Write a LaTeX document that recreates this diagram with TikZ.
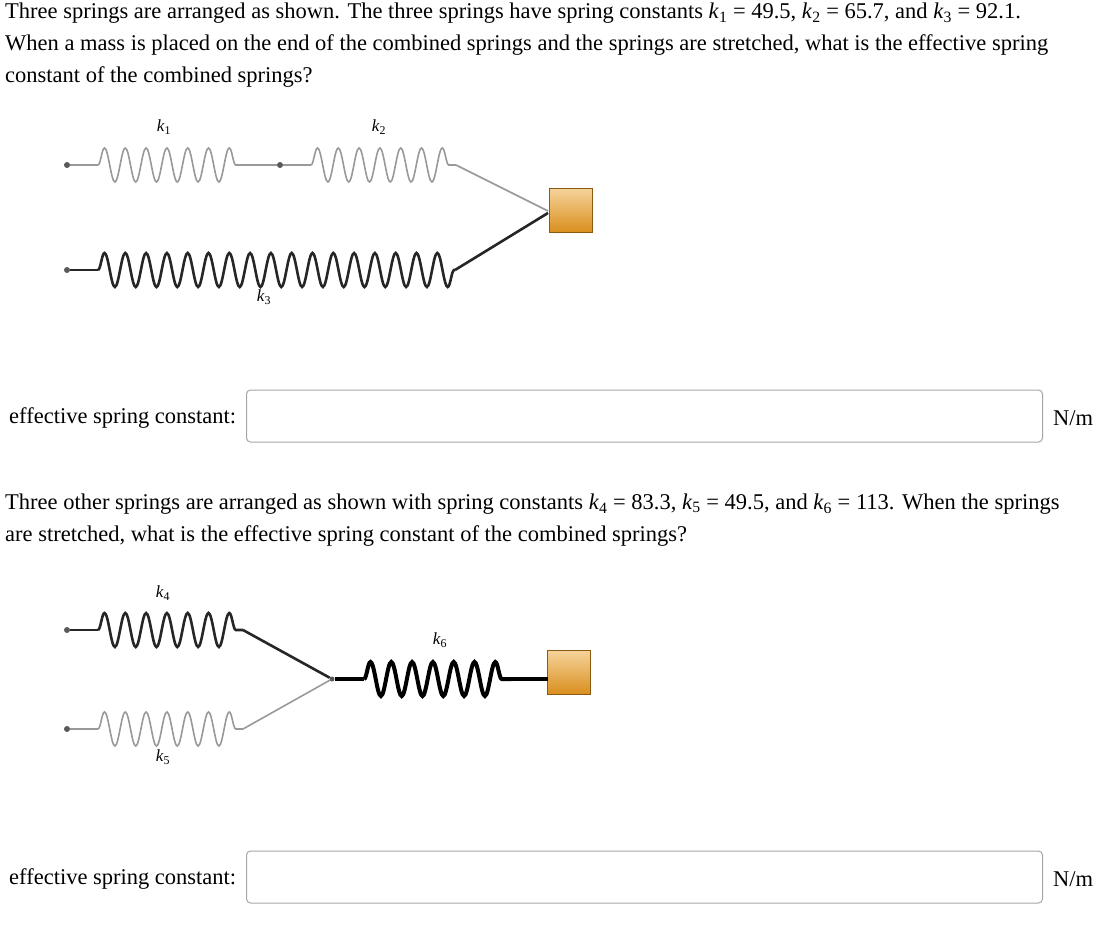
\documentclass[tikz,border=0pt]{standalone}
\usepackage{fontspec}
\setmainfont{Liberation Serif}
\usetikzlibrary{decorations.pathmorphing, positioning}
\newcommand{\kk}[1]{\textit{k}\textsubscript{#1}}
\definecolor{masstop}{HTML}{F6D49C}
\definecolor{massbot}{HTML}{D98F1E}
\definecolor{massline}{HTML}{8A5A10}

\begin{document}
\begin{tikzpicture}[
  x=1pt, y=-1pt,
  every node/.style={font=\fontsize{22.5}{32}\selectfont, inner sep=0pt},
  txt/.style={anchor=north west, align=left},
  klabel/.style={font=\fontsize{17}{17}\selectfont},
  coil/.style={decorate, decoration={snake, amplitude=17pt, segment length=20.8pt, pre length=#1, post length=#1}},
  light/.style={gray!80, line width=1.6pt},
  dark/.style={black!85, line width=2.6pt},
  heavy/.style={black, line width=4pt},
  pin/.style={circle, fill=black!65, minimum size=6pt},
  mass/.style={rectangle, draw=massline, top color=masstop, bottom color=massbot, minimum width=43pt, minimum height=44pt},
  answer/.style={rectangle, draw=gray!70, rounded corners=4pt, line width=1pt, minimum width=796pt, minimum height=52pt, anchor=west}
]
\useasboundingbox (0,0) rectangle (1114,948);

% Question text
\node[txt] (q1) at (5,3) {Three springs are arranged as shown. The three springs have spring constants \kk{1} = 49.5, \kk{2} = 65.7, and \kk{3} = 92.1.\\
When a mass is placed on the end of the combined springs and the springs are stretched, what is the effective spring\\
constant of the combined springs?};

% First arrangement
\node[pin] (a1) at (67,165) {};
\node[pin] (a2) at (280,165) {};
\node[pin] (a3) at (67,270) {};
\node[mass] (m1) at (571,210) {};
\coordinate (hook1) at (548,211);
\coordinate (hook3) at (548,213);
\draw[light] (a1) -- (98,165);
\draw[light, coil=0pt] (98,165) -- (243,165);
\draw[light] (243,165) -- (a2);
\draw[light] (a2) -- (311,165);
\draw[light, coil=0pt] (311,165) -- (456,165);
\draw[light] (456,165) -- (hook1);
\draw[dark] (a3) -- (98,270);
\draw[dark, coil=0pt] (98,270) -- (455,270);
\draw[dark] (455,270) -- (hook3);
\node[klabel] (k1) at (164,127) {\kk{1}};
\node[klabel] (k2) at (379,127) {\kk{2}};
\node[klabel] (k3) at (264,297) {\kk{3}};

% First answer
\node[anchor=west] (e1) at (9,418) {effective spring constant:};
\node[answer] (b1) at (246,416) {};
\node[anchor=west] (u1) at (1053,418) {N/m};

% Second question
\node[txt] (q2) at (5,494) {Three other springs are arranged as shown with spring constants \kk{4} = 83.3, \kk{5} = 49.5, and \kk{6} = 113. When the springs\\
are stretched, what is the effective spring constant of the combined springs?};

% Second arrangement
\node[pin] (p4) at (67,630) {};
\node[pin] (p5) at (67,729) {};
\node[pin, minimum size=5pt] (j) at (332,679) {};
\node[mass] (m2) at (569,672) {};
\draw[dark] (p4) -- (98,630);
\draw[dark, coil=0pt] (98,630) -- (243,630);
\draw[dark] (243,630) -- (j);
\draw[light] (p5) -- (98,729);
\draw[light, coil=0pt] (98,729) -- (243,729);
\draw[light] (243,729) -- (j);
\draw[heavy] (j) -- (364,679);
\draw[heavy, coil=0pt] (364,679) -- (511,679);
\draw[heavy] (511,679) -- (548,679);
\node[klabel] (k4) at (163,593) {\kk{4}};
\node[klabel] (k5) at (163,757) {\kk{5}};
\node[klabel] (k6) at (440,640) {\kk{6}};

% Second answer
\node[anchor=west] (e2) at (9,879) {effective spring constant:};
\node[answer] (b2) at (246,877) {};
\node[anchor=west] (u2) at (1053,879) {N/m};
\end{tikzpicture}
\end{document}
